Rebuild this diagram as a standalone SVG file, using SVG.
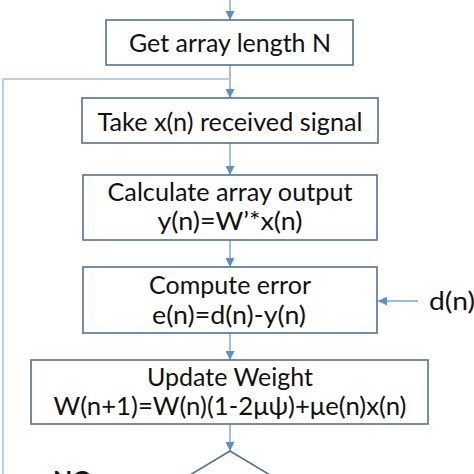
<svg xmlns="http://www.w3.org/2000/svg" width="474" height="474" viewBox="0 0 474 474">
<defs>
<marker id="ah" viewBox="0 0 10 10" refX="10" refY="5" markerWidth="9" markerHeight="9" markerUnits="userSpaceOnUse" orient="auto">
<path d="M0,0 L10,5 L0,10 Z" fill="#5b8fcb"/>
</marker>
<style>
.box{fill:#ffffff;stroke:#4f7298;stroke-width:1.6}
.t{font-family:Lato,"Open Sans",sans-serif;font-size:25px;fill:#111111;text-anchor:middle}
.c{fill:none;stroke:#7ca4d4;stroke-width:1.4}
.loop{fill:none;stroke:#b7cfe8;stroke-width:2.2}
</style>
</defs>
<rect width="474" height="474" fill="#ffffff"/>
<g id="connectors">
<line class="c" x1="230" y1="0" x2="230" y2="20" marker-end="url(#ah)"/>
<line class="c" x1="230" y1="65" x2="230" y2="98" marker-end="url(#ah)"/>
<polyline class="loop" points="230,79 3,79 3,474"/>
<line class="c" x1="230" y1="143" x2="230" y2="175" marker-end="url(#ah)"/>
<line class="c" x1="230" y1="240" x2="230" y2="267" marker-end="url(#ah)"/>
<line class="c" x1="418" y1="301" x2="378" y2="301" marker-end="url(#ah)"/>
<line class="c" x1="230" y1="333" x2="230" y2="360" marker-end="url(#ah)"/>
<line class="c" x1="230" y1="424" x2="230" y2="451" marker-end="url(#ah)"/>
</g>
<g id="n1">
<rect class="box" x="106" y="20" width="247" height="45"/>
<text class="t" x="230" y="52" textLength="202" lengthAdjust="spacingAndGlyphs">Get array length N</text>
</g>
<g id="n2">
<rect class="box" x="82" y="98" width="296" height="45"/>
<text class="t" x="230" y="131" textLength="265" lengthAdjust="spacingAndGlyphs">Take x(n) received signal</text>
</g>
<g id="n3">
<rect class="box" x="83" y="175" width="294" height="65"/>
<text class="t" x="230" y="201" textLength="245" lengthAdjust="spacingAndGlyphs">Calculate array output</text>
<text class="t" x="230" y="230" textLength="145" lengthAdjust="spacingAndGlyphs">y(n)=W’*x(n)</text>
</g>
<g id="n4">
<rect class="box" x="83" y="267" width="294" height="66"/>
<text class="t" x="230" y="294" textLength="162" lengthAdjust="spacingAndGlyphs">Compute error</text>
<text class="t" x="229" y="324" textLength="154" lengthAdjust="spacingAndGlyphs">e(n)=d(n)-y(n)</text>
</g>
<g id="n5">
<rect class="box" x="31" y="360" width="397" height="64"/>
<text class="t" x="230" y="386" textLength="166" lengthAdjust="spacingAndGlyphs">Update Weight</text>
<text class="t" x="230" y="415" textLength="353" lengthAdjust="spacingAndGlyphs">W(n+1)=W(n)(1-2μψ)+μe(n)x(n)</text>
</g>
<g id="n6">
<polygon class="box" points="230,451 330,511 230,571 130,511"/>
</g>
<g id="lbl-d">
<text class="t" x="429" y="310" style="text-anchor:start" textLength="46" lengthAdjust="spacingAndGlyphs">d(n)</text>
</g>
<g id="lbl-no">
<text class="t" x="53" y="489" style="text-anchor:start;font-weight:bold">NO</text>
</g>
</svg>
